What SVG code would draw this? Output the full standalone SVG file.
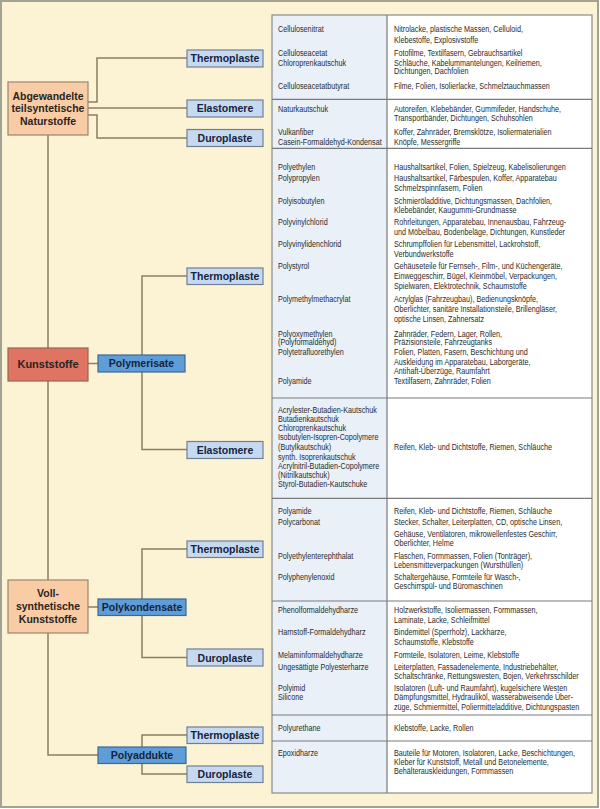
<svg xmlns="http://www.w3.org/2000/svg" width="600" height="809" viewBox="0 0 600 809">
<style>
.bg{fill:#fcf3d5;stroke:#a3a395;stroke-width:2}
.conn{fill:none;stroke:#8c7d63;stroke-width:1.5}
.peach{fill:#f9cca6;stroke:#9c8470;stroke-width:1.2}
.red{fill:#df7463;stroke:#9a6555;stroke-width:1.2}
.mid{fill:#5f9dd9;stroke:#3f6792;stroke-width:1.2}
.lite{fill:#c6d9f1;stroke:#6e8096;stroke-width:1.2}
.nl{font-family:"Liberation Sans",Arial,sans-serif;font-weight:bold;font-size:10.5px;fill:#2a2420;text-anchor:middle}
.nb{font-family:"Liberation Sans",Arial,sans-serif;font-weight:bold;font-size:10.5px;fill:#14243e;text-anchor:middle}
.t{font-family:"Liberation Sans",Arial,sans-serif;font-size:8.8px;fill:#2b2b2b}
.sep{stroke:#7a7a7a;stroke-width:1.2}
</style>
<rect class="bg" x="1" y="1" width="597" height="806"/>

<g id="connectors">
<path class="conn" d="M88,102 H97 V58 H187"/>
<path class="conn" d="M88,108 H187"/>
<path class="conn" d="M88,115 H97 V138 H187"/>
<path class="conn" d="M48,135 V348"/>
<path class="conn" d="M48,381 V580"/>
<path class="conn" d="M48,633 V755 H98"/>
<path class="conn" d="M88,363.5 H98"/>
<path class="conn" d="M187,276 H142 V449.5 H187"/>
<path class="conn" d="M88,607 H98"/>
<path class="conn" d="M187,549 H142 V657.5 H187"/>
<path class="conn" d="M187,735 H142 V774 H187"/>
</g>

<g id="node-naturstoffe">
<rect class="peach" x="8" y="82" width="80" height="53"/>
<text class="nl" x="48" y="99.8">Abgewandelte</text>
<text class="nl" x="48" y="112.2">teilsyntetische</text>
<text class="nl" x="48" y="124.6">Naturstoffe</text>
</g>
<g id="node-nat-thermo"><rect class="lite" x="187" y="50" width="76" height="17"/><text class="nb" x="225" y="62">Thermoplaste</text></g>
<g id="node-nat-elasto"><rect class="lite" x="187" y="100" width="76" height="17"/><text class="nb" x="225" y="112">Elastomere</text></g>
<g id="node-nat-duro"><rect class="lite" x="187" y="129.5" width="76" height="17"/><text class="nb" x="225" y="141.8">Duroplaste</text></g>

<g id="node-kunststoffe">
<rect class="red" x="8" y="348" width="80" height="33"/>
<text class="nl" x="48" y="367.5" style="font-size:11px">Kunststoffe</text>
</g>

<g id="node-polymerisate"><rect class="mid" x="98" y="355" width="87" height="17"/><text class="nb" x="141.5" y="367.3">Polymerisate</text></g>
<g id="node-pm-thermo"><rect class="lite" x="187" y="268" width="76" height="16.5"/><text class="nb" x="225" y="280">Thermoplaste</text></g>
<g id="node-pm-elasto"><rect class="lite" x="187" y="441.5" width="76" height="17"/><text class="nb" x="225" y="453.8">Elastomere</text></g>

<g id="node-vollsynth">
<rect class="peach" x="8" y="580" width="80" height="53"/>
<text class="nl" x="48" y="596.5">Voll-</text>
<text class="nl" x="48" y="610">synthetische</text>
<text class="nl" x="48" y="623.2">Kunststoffe</text>
</g>
<g id="node-polykondensate"><rect class="mid" x="98" y="599" width="88" height="16.5"/><text class="nb" x="142" y="611">Polykondensate</text></g>
<g id="node-pk-thermo"><rect class="lite" x="187" y="541" width="76" height="16.5"/><text class="nb" x="225" y="553">Thermoplaste</text></g>
<g id="node-pk-duro"><rect class="lite" x="187" y="649" width="76" height="17"/><text class="nb" x="225" y="661.5">Duroplaste</text></g>

<g id="node-polyaddukte"><rect class="mid" x="98" y="747" width="88" height="16.5"/><text class="nb" x="142" y="759">Polyaddukte</text></g>
<g id="node-pa-thermo"><rect class="lite" x="187" y="727" width="76" height="16.5"/><text class="nb" x="225" y="739">Thermoplaste</text></g>
<g id="node-pa-duro"><rect class="lite" x="187" y="766" width="76" height="16.5"/><text class="nb" x="225" y="778">Duroplaste</text></g>

<g id="table">
<rect x="272" y="15" width="115" height="778" fill="#e9f0f8"/>
<rect x="387" y="15" width="205" height="778" fill="#ffffff"/>
<rect x="272" y="15" width="320" height="778" fill="none" stroke="#8a8a8a" stroke-width="1.2"/>
<line class="sep" x1="387" y1="15" x2="387" y2="793"/>
<line class="sep" x1="272" y1="99.3" x2="592" y2="99.3"/>
<line class="sep" x1="272" y1="148.3" x2="592" y2="148.3"/>
<line class="sep" x1="272" y1="398" x2="592" y2="398"/>
<line class="sep" x1="272" y1="498.3" x2="592" y2="498.3"/>
<line class="sep" x1="272" y1="601" x2="592" y2="601"/>
<line class="sep" x1="272" y1="715" x2="592" y2="715"/>
<line class="sep" x1="272" y1="741" x2="592" y2="741"/>

<g id="col-material" transform="translate(278 0) scale(0.82 1)">
<text class="t" x="0" y="32">Cellulosenitrat</text>
<text class="t" x="0" y="56">Celluloseacetat</text>
<text class="t" x="0" y="66">Chloroprenkautschuk</text>
<text class="t" x="0" y="89">Celluloseacetatbutyrat</text>
<text class="t" x="0" y="112">Naturkautschuk</text>
<text class="t" x="0" y="135.5">Vulkanfiber</text>
<text class="t" x="0" y="145.5">Casein-Formaldehyd-Kondensat</text>
<text class="t" x="0" y="170.5">Polyethylen</text>
<text class="t" x="0" y="181">Polypropylen</text>
<text class="t" x="0" y="204">Polyisobutylen</text>
<text class="t" x="0" y="225.5">Polyvinylchlorid</text>
<text class="t" x="0" y="247">Polyvinylidenchlorid</text>
<text class="t" x="0" y="269.5">Polystyrol</text>
<text class="t" x="0" y="302">Polymethylmethacrylat</text>
<text class="t" x="0" y="337">Polyoxymethylen</text>
<text class="t" x="0" y="345.5">(Polyformaldehyd)</text>
<text class="t" x="0" y="355.5">Polytetrafluorethylen</text>
<text class="t" x="0" y="384">Polyamide</text>
<text class="t" x="0" y="413">Acrylester-Butadien-Kautschuk</text>
<text class="t" x="0" y="422">Butadienkautschuk</text>
<text class="t" x="0" y="431">Chloroprenkautschuk</text>
<text class="t" x="0" y="440">Isobutylen-Isopren-Copolymere</text>
<text class="t" x="0" y="450">(Butylkautschuk)</text>
<text class="t" x="0" y="460">synth. Isoprenkautschuk</text>
<text class="t" x="0" y="469">Acrylnitril-Butadien-Copolymere</text>
<text class="t" x="0" y="478">(Nitrilkautschuk)</text>
<text class="t" x="0" y="487">Styrol-Butadien-Kautschuke</text>
<text class="t" x="0" y="514">Polyamide</text>
<text class="t" x="0" y="525">Polycarbonat</text>
<text class="t" x="0" y="559">Polyethylenterephthalat</text>
<text class="t" x="0" y="580">Polyphenylenoxid</text>
<text class="t" x="0" y="613.5">Phenolformaldehydharze</text>
<text class="t" x="0" y="635.5">Harnstoff-Formaldehydharz</text>
<text class="t" x="0" y="658">Melaminformaldehydharze</text>
<text class="t" x="0" y="670.5">Ungesättigte Polyesterharze</text>
<text class="t" x="0" y="691">Polyimid</text>
<text class="t" x="0" y="700.5">Silicone</text>
<text class="t" x="0" y="731">Polyurethane</text>
<text class="t" x="0" y="756">Epoxidharze</text>
</g>

<g id="col-usage" transform="translate(394 0) scale(0.82 1)">
<text class="t" x="0" y="32">Nitrolacke, plastische Massen, Celluloid,</text>
<text class="t" x="0" y="43">Klebestoffe, Explosivstoffe</text>
<text class="t" x="0" y="56">Fotofilme, Textilfasern, Gebrauchsartikel</text>
<text class="t" x="0" y="66">Schläuche, Kabelummantelungen, Keilriemen,</text>
<text class="t" x="0" y="74.5">Dichtungen, Dachfolien</text>
<text class="t" x="0" y="89">Filme, Folien, Isolierlacke, Schmelztauchmassen</text>
<text class="t" x="0" y="112">Autoreifen, Klebebänder, Gummifeder, Handschuhe,</text>
<text class="t" x="0" y="121">Transportbänder, Dichtungen, Schuhsohlen</text>
<text class="t" x="0" y="135.5">Koffer, Zahnräder, Bremsklötze, Isoliermaterialien</text>
<text class="t" x="0" y="145.5">Knöpfe, Messergriffe</text>
<text class="t" x="0" y="170.5">Haushaltsartikel, Folien, Spielzeug, Kabelisolierungen</text>
<text class="t" x="0" y="181">Haushaltsartikel, Färbespulen, Koffer, Apparatebau</text>
<text class="t" x="0" y="191">Schmelzspinnfasern, Folien</text>
<text class="t" x="0" y="204">Schmieröladditive, Dichtungsmassen, Dachfolien,</text>
<text class="t" x="0" y="213.5">Klebebänder, Kaugummi-Grundmasse</text>
<text class="t" x="0" y="225.5">Rohrleitungen, Apparatebau, Innenausbau, Fahrzeug-</text>
<text class="t" x="0" y="235.5">und Möbelbau, Bodenbeläge, Dichtungen, Kunstleder</text>
<text class="t" x="0" y="247">Schrumpffolien für Lebensmittel, Lackrohstoff,</text>
<text class="t" x="0" y="257">Verbundwerkstoffe</text>
<text class="t" x="0" y="269.5">Gehäuseteile für Fernseh-, Film-, und Küchengeräte,</text>
<text class="t" x="0" y="279">Einweggeschirr, Bügel, Kleinmöbel, Verpackungen,</text>
<text class="t" x="0" y="289">Spielwaren, Elektrotechnik, Schaumstoffe</text>
<text class="t" x="0" y="302">Acrylglas (Fahrzeugbau), Bedienungsknöpfe,</text>
<text class="t" x="0" y="312">Oberlichter, sanitäre Installationsteile, Brillengläser,</text>
<text class="t" x="0" y="322">optische Linsen, Zahnersatz</text>
<text class="t" x="0" y="337">Zahnräder, Federn, Lager, Rollen,</text>
<text class="t" x="0" y="345.5">Präzisionsteile, Fahrzeugtanks</text>
<text class="t" x="0" y="355.5">Folien, Platten, Fasern, Beschichtung und</text>
<text class="t" x="0" y="365">Auskleidung im Apparatebau, Laborgeräte,</text>
<text class="t" x="0" y="374.5">Antihaft-Überzüge, Raumfahrt</text>
<text class="t" x="0" y="384">Textilfasern, Zahnräder, Folien</text>
<text class="t" x="0" y="450">Reifen, Kleb- und Dichtstoffe, Riemen, Schläuche</text>
<text class="t" x="0" y="514">Reifen, Kleb- und Dichtstoffe, Riemen, Schläuche</text>
<text class="t" x="0" y="525">Stecker, Schalter, Leiterplatten, CD, optische Linsen,</text>
<text class="t" x="0" y="537">Gehäuse, Ventilatoren, mikrowellenfestes Geschirr,</text>
<text class="t" x="0" y="546">Oberlichter, Helme</text>
<text class="t" x="0" y="559">Flaschen, Formmassen, Folien (Tonträger),</text>
<text class="t" x="0" y="568">Lebensmitteverpackungen (Wursthüllen)</text>
<text class="t" x="0" y="580">Schaltergehäuse, Formteile für Wasch-,</text>
<text class="t" x="0" y="589.5">Geschirrspül- und Büromaschinen</text>
<text class="t" x="0" y="613.5">Holzwerkstoffe, Isoliermassen, Formmassen,</text>
<text class="t" x="0" y="623">Laminate, Lacke, Schleifmittel</text>
<text class="t" x="0" y="635.5">Bindemittel (Sperrholz), Lackharze,</text>
<text class="t" x="0" y="645.5">Schaumstoffe, Klebstoffe</text>
<text class="t" x="0" y="658">Formteile, Isolatoren, Leime, Klebstoffe</text>
<text class="t" x="0" y="670.5">Leiterplatten, Fassadenelemente, Industriebehälter,</text>
<text class="t" x="0" y="679.5">Schaltschränke, Rettungswesten, Bojen, Verkehrsschilder</text>
<text class="t" x="0" y="691">Isolatoren (Luft- und Raumfahrt), kugelsichere Westen</text>
<text class="t" x="0" y="700.5">Dämpfungsmittel, Hydrauliköl, wasserabweisende Über-</text>
<text class="t" x="0" y="710">züge, Schmiermittel, Poliermitteladditive, Dichtungspasten</text>
<text class="t" x="0" y="731">Klebstoffe, Lacke, Rollen</text>
<text class="t" x="0" y="756">Bauteile für Motoren, Isolatoren, Lacke, Beschichtungen,</text>
<text class="t" x="0" y="765">Kleber für Kunststoff, Metall und Betonelemente,</text>
<text class="t" x="0" y="774.5">Behälterauskleidungen, Formmassen</text>
</g>
</g>
</svg>
